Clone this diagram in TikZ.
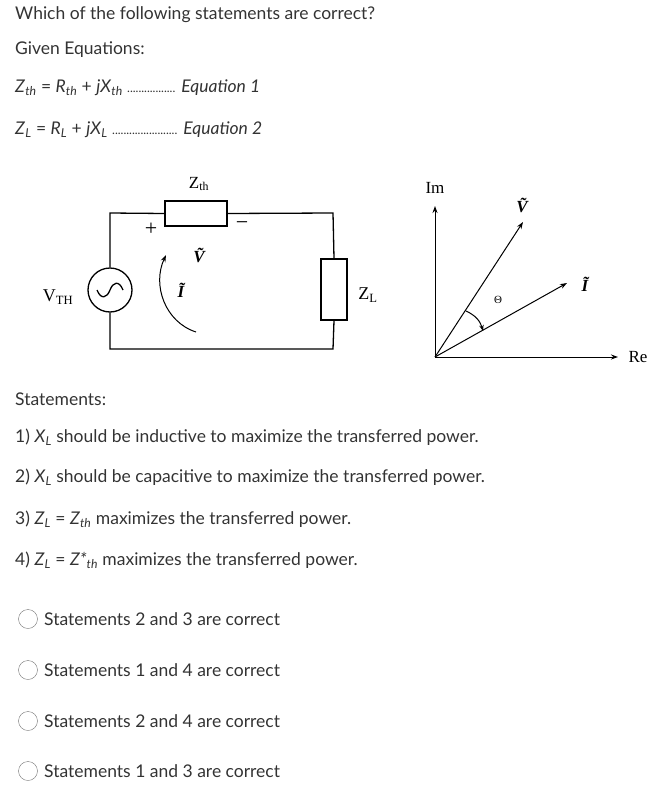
\documentclass[tikz,border=0pt]{standalone}
\usepackage{fontspec}
\setmainfont{Lato}
\newfontfamily\tms{Liberation Serif}
\usetikzlibrary{arrows.meta}
\newcommand{\myit}[1]{\textit{#1}}
\newcommand{\sbi}[1]{\textsubscript{\textit{#1}}}
\begin{document}
\begin{tikzpicture}[x=1pt,y=-1pt,
  txt/.style={anchor=west,inner sep=0pt,font=\fontsize{17.5}{20}\selectfont,text=black!80},
  ser/.style={inner sep=0pt,font=\tms\fontsize{17}{18}\selectfont},
  wire/.style={line width=1.3pt},
  opt/.style={circle,draw=black!55,minimum size=19pt,inner sep=0pt},
  arr/.style={line width=1pt,-{Stealth[length=7pt,width=5pt]}}]
\useasboundingbox (0,0) rectangle (660,792);
\node[txt] (q) at (15,15) {Which of the following statements are correct?};
\node[txt] (g) at (15,50) {Given Equations:};
\node[txt] (e1) at (15,88) {\myit{Z}\sbi{th} = \myit{R}\sbi{th} + \myit{jX}\sbi{th} {\fontsize{12}{12}\selectfont.................} \myit{Equation 1}};
\node[txt] (e2) at (15,130) {\myit{Z}\sbi{L} = \myit{R}\sbi{L} + \myit{jX}\sbi{L} {\fontsize{12}{12}\selectfont.......................} \myit{Equation 2}};
% circuit
\coordinate (tl) at (110,213); \coordinate (tr) at (333,213);
\coordinate (bl) at (110,349); \coordinate (br) at (333,349);
\node[draw,wire,minimum width=62pt,minimum height=25pt,inner sep=0pt] (zth) at (196,213.5) {};
\node[draw,wire,minimum width=26pt,minimum height=61pt,inner sep=0pt] (zl) at (334,289.5) {};
\node[draw,wire,circle,minimum size=44pt,inner sep=0pt] (src) at (110,290) {};
\draw[wire] (src.north) -- (tl) -- (zth.west);
\draw[wire] (zth.east) -- (tr) -- (zl.north);
\draw[wire] (zl.south) -- (br) -- (bl) -- (src.south);
\draw[wire] ([xshift=-13pt]src.center) .. controls ([xshift=-9pt,yshift=-10pt]src.center) and ([xshift=-3pt,yshift=-8pt]src.center) .. (src.center) .. controls ([xshift=3pt,yshift=8pt]src.center) and ([xshift=9pt,yshift=10pt]src.center) .. ([xshift=13pt]src.center);
\node[ser] (lzth) at (199,184) {Z\textsubscript{th}};
\node[ser,font=\tms\fontsize{22}{22}\selectfont] (plus) at (151,229) {+};
\node[ser,font=\tms\fontsize{22}{22}\selectfont] (minus) at (242,226) {−};
\node[ser,font=\tms\bfseries\itshape\fontsize{17}{18}\selectfont] (lv) at (199,255) {\~V};
\node[ser,font=\tms\bfseries\itshape\fontsize{17}{18}\selectfont] (li) at (181,290) {\~I};
\node[ser,font=\tms\fontsize{18}{18}\selectfont] (lvth) at (58,297) {V\textsubscript{TH}};
\node[ser,font=\tms\fontsize{18}{18}\selectfont] (lzl) at (368,295) {Z\textsubscript{L}};
\coordinate (a0) at (196,332); \coordinate (a1) at (166,255);
\draw[arr] (a0) .. controls (165,322) and (152,285) .. (a1);
% phasor
\coordinate (o) at (435,357);
\coordinate (imtip) at (435,206); \coordinate (retip) at (618,357);
\coordinate (vtip) at (523,222); \coordinate (itip) at (567,283);
\draw[arr] (o) -- (imtip);
\draw[arr] (o) -- (retip);
\draw[arr] (o) -- (vtip);
\draw[arr] (o) -- (itip);
\node[ser] (lim) at (435,188) {Im};
\node[ser] (lre) at (638,357) {Re};
\node[ser,font=\tms\bfseries\itshape\fontsize{17}{18}\selectfont] (lv2) at (522,205) {\~V};
\node[ser,font=\tms\bfseries\itshape\fontsize{17}{18}\selectfont] (li2) at (585,284) {\~I};
\node[ser,font=\tms\fontsize{11}{11}\selectfont] (th) at (498,300) {Θ};
\coordinate (b0) at (466,311); \coordinate (b1) at (483,331);
\draw[line width=1pt,-{Stealth[length=6pt,width=4.5pt]}] (b0) to[bend left=25] (b1);
% statements
\node[txt] (s) at (15,399) {Statements:};
\node[txt] (s1) at (15,437) {1) \myit{X}\sbi{L} should be inductive to maximize the transferred power.};
\node[txt] (s2) at (15,477) {2) \myit{X}\sbi{L} should be capacitive to maximize the transferred power.};
\node[txt] (s3) at (15,519) {3) \myit{Z}\sbi{L} = \myit{Z}\sbi{th} maximizes the transferred power.};
\node[txt] (s4) at (15,560) {4) \myit{Z}\sbi{L} = \myit{Z*}\sbi{th} maximizes the transferred power.};
\foreach \y/\t [count=\i] in {619/Statements 2 and 3 are correct,670/Statements 1 and 4 are correct,721/Statements 2 and 4 are correct,771/Statements 1 and 3 are correct}{
  \node[opt] (c\i) at (28,\y) {};
  \node[txt] (o\i) at (44,\y) {\t};
}
\end{tikzpicture}
\end{document}
